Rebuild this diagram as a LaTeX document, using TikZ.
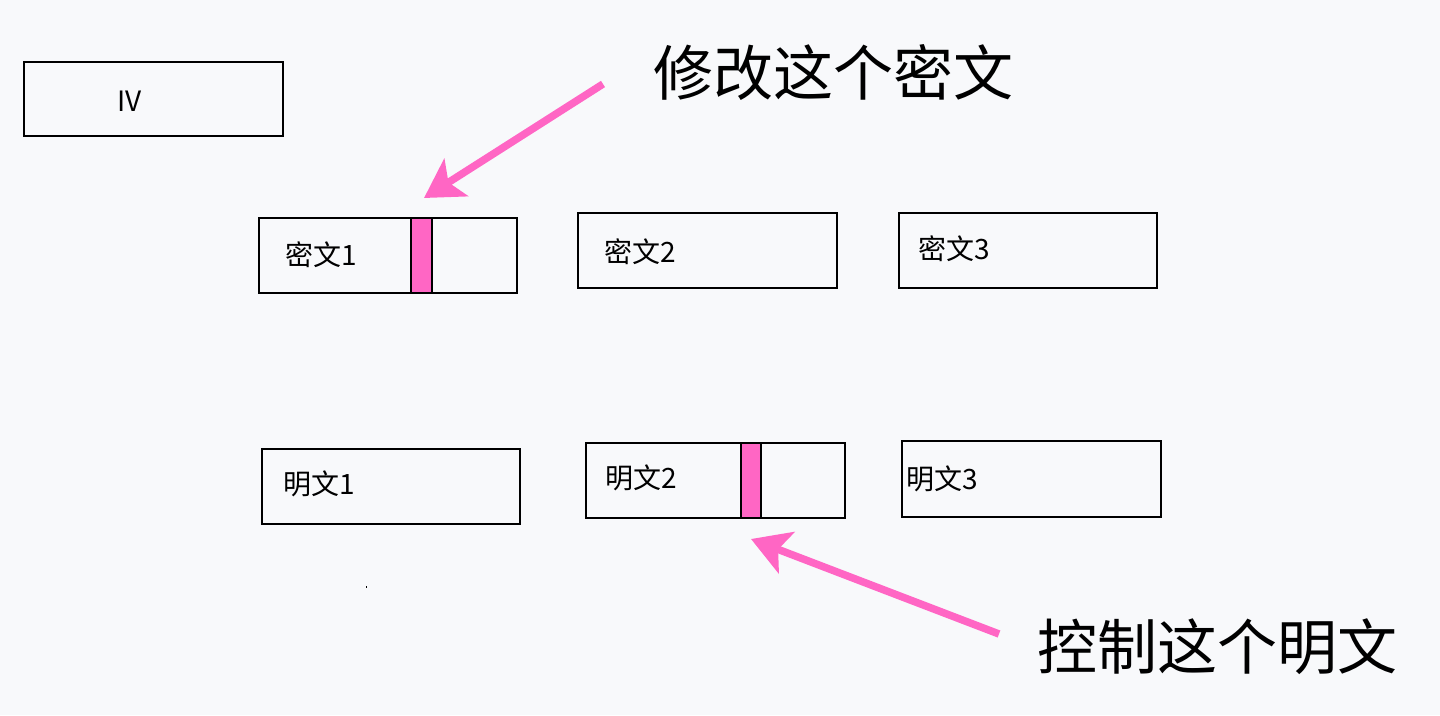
\documentclass[tikz,border=0pt]{standalone}
\usepackage{fontspec}
\setmainfont{Noto Sans CJK SC}
\usetikzlibrary{arrows.meta}
\definecolor{bgc}{HTML}{F8F9FB}
\definecolor{pinkc}{HTML}{FF66C4}
\tikzset{
  blk/.style={draw=black, line width=1.6pt, fill=bgc},
  bar/.style={draw=black, line width=1.4pt, fill=pinkc},
  lbl/.style={font=\fontsize{28}{32}\selectfont, anchor=west, inner sep=0pt},
  big/.style={font=\fontsize{60}{68}\selectfont, inner sep=0pt},
  parrow/.style={draw=pinkc, line width=7.5pt, -{Stealth[length=38pt,width=44pt,inset=9pt]}}
}
\begin{document}
\begin{tikzpicture}[x=1pt,y=-1pt]
\fill[bgc] (0,0) rectangle (1440,715);
\useasboundingbox (0,0) rectangle (1440,715);
% boxes
\draw[blk] (24,62) rectangle (283,136);
\node[lbl] (iv) at (117,101) {IV};
\draw[blk] (259,218) rectangle (517,293);
\draw[bar] (411,218) rectangle (432,293);
\node[lbl] (c1) at (285,255) {密文1};
\draw[blk] (578,213) rectangle (837,288);
\node[lbl] (c2) at (604,252) {密文2};
\draw[blk] (899,213) rectangle (1157,288);
\node[lbl] (c3) at (918,249) {密文3};
\draw[blk] (262,449) rectangle (520,524);
\node[lbl] (p1) at (283,484) {明文1};
\draw[blk] (586,443) rectangle (845,518);
\draw[bar] (741,443) rectangle (761,518);
\node[lbl] (p2) at (605,478) {明文2};
\draw[blk] (902,441) rectangle (1161,517);
\node[lbl] (p3) at (906,479) {明文3};
\fill[black] (365.5,585.5) rectangle (367,588);
% labels
\node[big] (t1) at (833,73) {修改这个密文};
\node[big] (t2) at (1217,647) {控制这个明文};
\coordinate (a1s) at (603,84);
\coordinate (a1e) at (424,198);
\coordinate (a2s) at (999,634);
\coordinate (a2e) at (751,539);
\draw[parrow] (a1s) -- (a1e);
\draw[parrow] (a2s) -- (a2e);
\end{tikzpicture}
\end{document}
